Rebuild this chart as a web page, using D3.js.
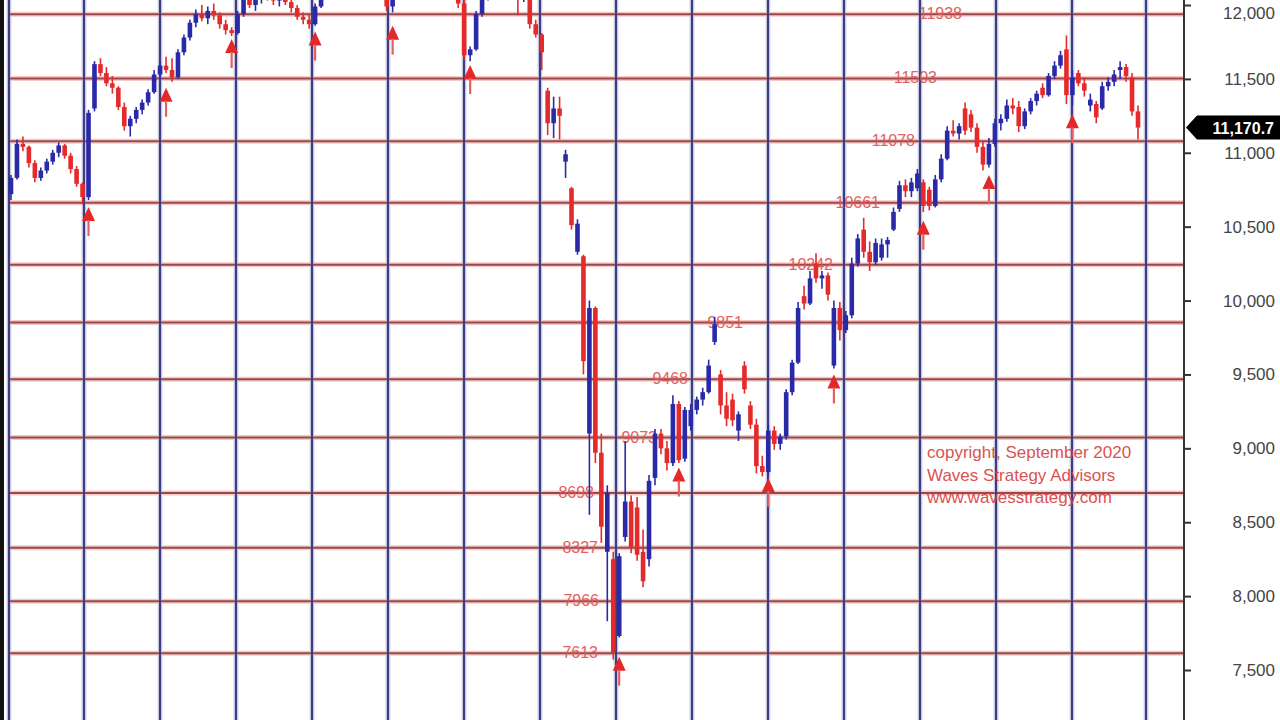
<!DOCTYPE html>
<html><head><meta charset="utf-8">
<script src="https://cdn.jsdelivr.net/npm/d3@7"></script>
<style>html,body{margin:0;padding:0;background:#fff;overflow:hidden}</style>
</head><body><svg id="c" width="1280" height="720"></svg>
<script>
// ---------------- DATA ----------------
const opens=[10720,10830,11060,11040,10930,10830,10880,10940,11000,11050,10980,10890,10790,10700,11300,11600,11540,11470,11440,11310,
11180,11230,11290,11340,11410,11530,11590,11560,11510,11680,11780,11880,11940,11910,11960,11930,11870,11830,11810,11940,
12040,12000,12050,12090,12060,12030,12070,12020,11980,11920,11900,11870,11990,12080,12130,12110,12180,12160,12100,12130,
12180,12210,12160,12100,11990,12080,12160,12230,12260,12200,12240,12210,12150,12180,12160,12080,12010,11660,11700,11940,
12060,12100,12130,12170,12150,12080,12050,12090,11870,11800,11420,11200,11300,10940,10760,10330,10300,9100,9950,8970,
8300,8250,7730,8400,8640,8600,8300,8250,8800,9100,9000,8900,9300,8930,9150,9260,9330,9380,9720,9500,
9290,9330,9120,9560,9290,9160,8880,8840,9120,9030,9080,9380,9580,10030,9980,10250,10150,10170,9560,9950,
9800,9900,10250,10480,10330,10260,10290,10380,10480,10620,10780,10740,10760,10800,10750,10640,10820,10960,11150,11130,
11300,11260,11170,11040,10920,11060,11200,11230,11320,11310,11180,11280,11350,11440,11390,11520,11590,11700,11390,11540,
11470,11320,11330,11300,11450,11480,11560,11580,11510,11280];
const highs=[10850,11090,11110,11050,10950,10900,10960,11020,11070,11060,11000,10910,10800,11290,11620,11640,11580,11520,11450,11340,
11250,11310,11360,11430,11560,11620,11650,11640,11700,11800,11900,11970,12000,11990,12010,11950,11900,11850,11960,12060,
12080,12070,12110,12120,12110,12090,12100,12050,12000,11950,11940,12010,12100,12150,12180,12200,12230,12190,12150,12200,
12240,12250,12180,12120,12100,12180,12250,12290,12280,12260,12280,12230,12200,12230,12170,12100,12040,11720,11960,12080,
12120,12160,12200,12230,12170,12100,12120,12110,11900,11810,11440,11380,11380,11020,10770,10550,10310,10000,9960,9100,
8750,8300,8290,9050,8680,8670,8450,8820,9130,9130,9050,9360,9320,9280,9300,9350,9410,9600,9890,9530,
9380,9370,9250,9590,9320,9200,8950,9160,9150,9100,9400,9600,9990,10100,10200,10320,10200,10190,10000,9990,
9930,10290,10450,10560,10400,10420,10420,10430,10630,10810,10820,10830,10890,10820,10770,10850,10990,11180,11220,11200,
11340,11290,11200,11080,11100,11230,11260,11360,11370,11350,11300,11370,11420,11470,11540,11620,11690,11794,11560,11560,
11510,11400,11350,11480,11510,11560,11620,11600,11540,11320];
const lows=[10680,10820,11010,10900,10800,10810,10860,10920,10970,10960,10860,10770,10650,10680,11280,11520,11450,11400,11290,11150,
11110,11200,11260,11320,11400,11500,11540,11480,11500,11660,11760,11850,11890,11870,11900,11840,11800,11790,11800,11920,
11980,11960,12010,12030,12000,11990,12000,11950,11900,11870,11840,11860,11980,12060,12090,12090,12140,12080,12060,12110,
12150,12140,12080,11960,11950,12060,12140,12200,12180,12170,12190,12120,12100,12140,12060,11980,11630,11620,11690,11920,
12030,12070,12100,12120,12050,11930,12020,11840,11780,11560,11120,11100,11090,10830,10480,10310,9500,8550,8900,8360,
7830,7570,7720,8370,8290,8240,8060,8200,8750,8960,8850,8880,8900,8910,9120,9230,9290,9370,9700,9230,
9150,9150,9050,9370,9130,8830,8810,8820,8990,8990,9060,9360,9570,9940,9970,10120,10080,10000,9540,9730,
9780,9880,10230,10290,10200,10240,10270,10290,10470,10600,10700,10700,10740,10600,10610,10630,10800,10950,11110,11090,
11120,11140,11000,10880,10900,11040,11150,11210,11260,11140,11160,11260,11320,11370,11380,11500,11570,11330,11320,11450,
11380,11280,11200,11290,11420,11450,11500,11480,11250,11090];
const closes=[10830,11060,11040,10930,10830,10880,10940,11000,11050,10980,10890,10790,10700,11270,11600,11540,11470,11440,11310,11180,
11230,11290,11340,11410,11530,11590,11560,11510,11680,11780,11880,11940,11910,11960,11930,11870,11830,11810,11940,12040,
12000,12050,12090,12060,12030,12070,12020,11980,11920,11900,11870,11990,12080,12130,12110,12180,12160,12100,12130,12180,
12210,12160,12100,11990,12080,12160,12230,12260,12200,12240,12210,12150,12180,12160,12080,12010,11660,11700,11940,12060,
12100,12130,12170,12150,12080,12050,12090,11870,11800,11680,11200,11300,11250,10990,10510,10520,9590,9950,8970,8470,
8700,7620,8270,8640,8330,8280,8100,8780,9100,9000,8900,9300,8920,9260,9260,9330,9380,9560,9840,9290,
9200,9190,9230,9400,9160,8880,8840,9120,9030,9080,9380,9580,9950,9980,10150,10150,10170,10040,9950,9800,
9900,10250,10420,10330,10260,10390,10380,10410,10600,10780,10740,10800,10860,10640,10640,10820,10960,11150,11130,11180,
11150,11170,11040,10920,11060,11200,11230,11320,11300,11180,11280,11350,11400,11390,11520,11590,11660,11390,11510,11470,
11420,11360,11240,11450,11480,11530,11580,11520,11280,11170.7];

const levelValues=[7613,7966,8327,8698,9073,9468,9851,10242,10661,11078,11503,11938];
const levelLabels=["7613","7966","8327","8698","9073","9468","9851","10242","10661","11078","11503","11938"];
const yTickValues=[7500,8000,8500,9000,9500,10000,10500,11000,11500,12000];
const markerBars=[13,26,37,51,64,77,102,112,127,138,153,164,178];
const markerValues=[10633,11440,11770,11820,11860,11594,7590,8870,8800,9500,10540,10850,11260];
const cycleBars=[-0.34,12.24,24.99,37.73,50.48,63.22,75.97,88.71,101.46,114.2,126.95,139.69,152.44,165.19,177.93,190.34];
const lastPrice=11170.7;
const noteLines=["copyright, September 2020","Waves Strategy Advisors","www.wavesstrategy.com"];

// ---------------- LAYOUT ----------------
const labelEndX=[598,599,598,594,657,688,743,833,880,915,937,962];
const svg=d3.select("#c");
const W=1280,H=720, axisX=1184;
const x=d3.scaleLinear().domain([0,opens.length-1]).range([11,1138]);
const y=d3.scaleLinear().domain([7500,12000]).range([670,5]);

const bars=opens.map((o,i)=>({i,o,h:highs[i],l:lows[i],c:closes[i]}));

svg.append("rect").attr("width",W).attr("height",H).attr("fill","#fff");
const defs=svg.append("defs");
defs.append("clipPath").attr("id","plot").append("rect").attr("x",5).attr("y",0).attr("width",axisX-5).attr("height",H);
const g=svg.append("g").attr("clip-path","url(#plot)");

// soft halos (scan blur)
g.selectAll(".lvh").data(levelValues).join("line")
 .attr("x1",9).attr("x2",axisX+3).attr("y1",d=>y(d)).attr("y2",d=>y(d))
 .attr("stroke","#f3c9c9").attr("stroke-width",5);
g.selectAll(".cvh").data(cycleBars).join("line")
 .attr("x1",d=>x(d)).attr("x2",d=>x(d)).attr("y1",0).attr("y2",H)
 .attr("stroke","#d6d7ee").attr("stroke-width",5);
g.selectAll(".lv").data(levelValues).join("line")
 .attr("x1",9).attr("x2",axisX+3).attr("y1",d=>y(d)).attr("y2",d=>y(d))
 .attr("stroke","#9c4848").attr("stroke-width",2);
g.selectAll(".cv").data(cycleBars).join("line")
 .attr("x1",d=>x(d)).attr("x2",d=>x(d)).attr("y1",0).attr("y2",H)
 .attr("stroke","#3d3d80").attr("stroke-width",2.2);

// level labels
g.selectAll(".lt").data(levelValues).join("text")
 .attr("x",(d,i)=>labelEndX[i]).attr("y",d=>y(d)+5)
 .attr("text-anchor","end").attr("font-family","Liberation Sans, Arial, sans-serif")
 .attr("font-size",16).attr("fill","#e05454").attr("opacity",0.92)
 .text((d,i)=>levelLabels[i]);

// candles
const up="#2a2aa8", dn="#e42a2a";
const cg=g.append("g");
cg.selectAll(".wick").data(bars).join("line")
 .attr("x1",d=>x(d.i)).attr("x2",d=>x(d.i)).attr("y1",d=>y(d.h)).attr("y2",d=>y(d.l))
 .attr("stroke",d=>d.c>=d.o?up:dn).attr("stroke-width",1.6);
cg.selectAll(".body").data(bars).join("rect")
 .attr("x",d=>x(d.i)-2.3).attr("width",4.6)
 .attr("y",d=>y(Math.max(d.o,d.c))).attr("height",d=>Math.max(1.5,Math.abs(y(d.o)-y(d.c))))
 .attr("fill",d=>d.c>=d.o?up:dn);

// markers (up arrows)
const mg=g.append("g");
markerBars.forEach((b,k)=>{
  const mx=x(b), my=y(markerValues[k]);
  mg.append("path").attr("d",`M${mx},${my} L${mx+6.5},${my+14} L${mx-6.5},${my+14} Z`).attr("fill","#e42828");
  mg.append("line").attr("x1",mx).attr("x2",mx).attr("y1",my+13).attr("y2",my+29)
    .attr("stroke","#e46060").attr("stroke-width",2.2);
});

// copyright note
svg.append("g").selectAll("text").data(noteLines).join("text")
 .attr("x",927).attr("y",(d,i)=>458+i*22.5)
 .attr("font-family","Liberation Sans, Arial, sans-serif").attr("font-size",17)
 .attr("fill","#d84040").attr("opacity",0.9).text(d=>d);

// left black strip
svg.append("rect").attr("x",0).attr("y",0).attr("width",4).attr("height",H).attr("fill","#111");

// right axis
const axis=d3.axisRight(y).tickValues(yTickValues).tickFormat(d3.format(",")).tickSize(7).tickSizeOuter(0);
const ag=svg.append("g").attr("transform",`translate(${axisX},0)`).call(axis);
ag.select(".domain").attr("d",`M0,0V${H}`).attr("stroke","#333").attr("stroke-width",2);
ag.selectAll(".tick line").attr("stroke","#333").attr("stroke-width",2);
ag.selectAll(".tick text").attr("x",91).attr("text-anchor","end")
 .attr("font-family","Liberation Sans, Arial, sans-serif").attr("font-size",17).attr("fill","#444")
 .attr("dy",d=>d===12000?"0.8em":"0.32em");

// last price tag
const ty=y(lastPrice);
svg.append("path").attr("d",`M${axisX+2},${ty} L${axisX+13},${ty-12} L1280,${ty-12} L1280,${ty+12} L${axisX+13},${ty+12} Z`).attr("fill","#000");
svg.append("text").attr("x",1274).attr("y",ty+6).attr("text-anchor","end")
 .attr("font-family","Liberation Sans, Arial, sans-serif").attr("font-weight","bold").attr("font-size",16)
 .attr("fill","#fff").text(d3.format(",.1f")(lastPrice));
</script></body></html>
